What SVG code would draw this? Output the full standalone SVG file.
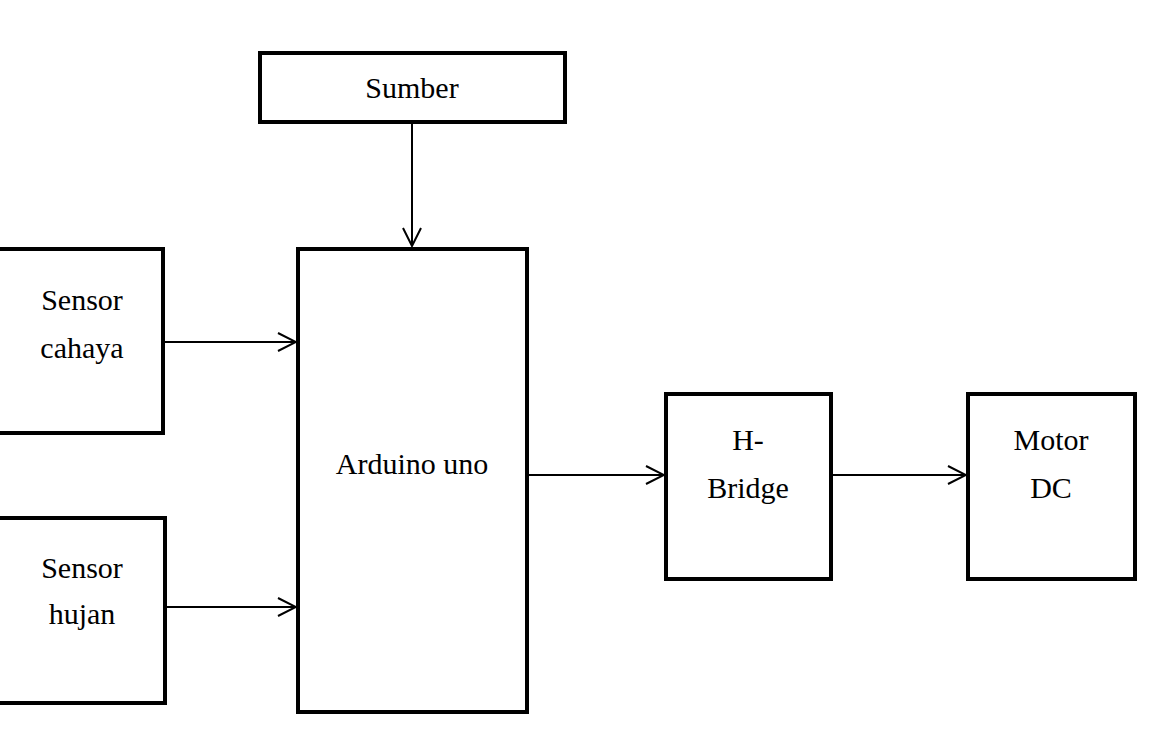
<svg xmlns="http://www.w3.org/2000/svg" width="1159" height="742" viewBox="0 0 1159 742">
<style>
.b{fill:#fff;stroke:#000;stroke-width:4}
.t{font-family:'Liberation Serif','Times New Roman','DejaVu Serif',serif;font-size:30px;text-anchor:middle;fill:#000}
.c{stroke:#000;stroke-width:2;fill:none}
</style>
<defs><marker id="a" viewBox="0 0 20 20" refX="19" refY="10" markerWidth="20" markerHeight="20" markerUnits="userSpaceOnUse" orient="auto"><path d="M1,1 L19,10 L1,19" fill="none" stroke="#000" stroke-width="2"/></marker></defs>
<rect width="1159" height="742" fill="#fff"/>
<g id="sumber"><rect class="b" x="260" y="53" width="305" height="69"/><text class="t" x="412" y="98">Sumber</text></g>
<g id="arduino"><rect class="b" x="298" y="249" width="229" height="463"/><text class="t" x="412" y="474">Arduino uno</text></g>
<g id="cahaya"><rect class="b" x="-2" y="249" width="165" height="184"/><text class="t" x="82" y="310">Sensor</text><text class="t" x="82" y="358">cahaya</text></g>
<g id="hujan"><rect class="b" x="-2" y="518" width="167" height="185"/><text class="t" x="82" y="578">Sensor</text><text class="t" x="82" y="624">hujan</text></g>
<g id="hbridge"><rect class="b" x="666" y="394" width="165" height="185"/><text class="t" x="748" y="450">H-</text><text class="t" x="748" y="498">Bridge</text></g>
<g id="motor"><rect class="b" x="968" y="394" width="167" height="185"/><text class="t" x="1051" y="450">Motor</text><text class="t" x="1051" y="498">DC</text></g>
<g id="connectors">
<line class="c" x1="412" y1="122" x2="412" y2="246" marker-end="url(#a)"/>
<line class="c" x1="163" y1="342" x2="296" y2="342" marker-end="url(#a)"/>
<line class="c" x1="165" y1="607" x2="296" y2="607" marker-end="url(#a)"/>
<line class="c" x1="527" y1="475" x2="664" y2="475" marker-end="url(#a)"/>
<line class="c" x1="831" y1="475" x2="966" y2="475" marker-end="url(#a)"/>
</g>
</svg>
